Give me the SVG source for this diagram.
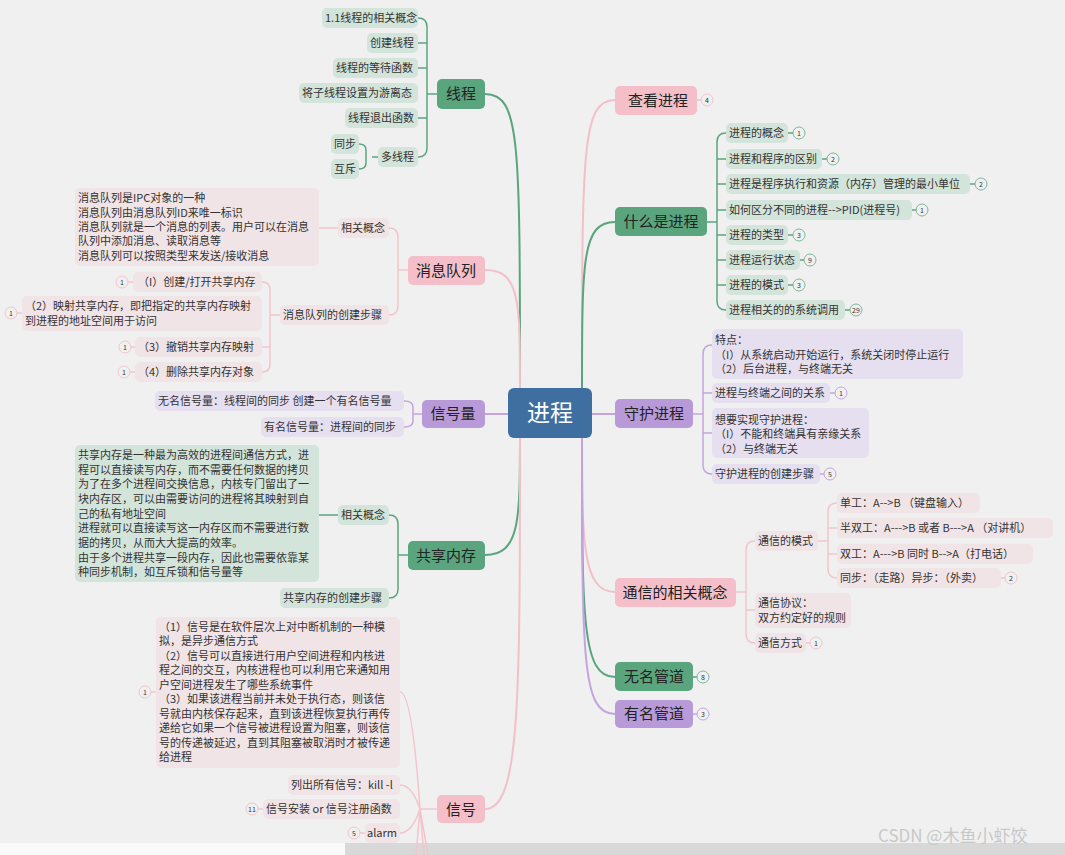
<svg xmlns="http://www.w3.org/2000/svg" width="1065" height="855" viewBox="0 0 1065 855">
<style>
text{font-family:"Noto Sans CJK SC","Liberation Sans",sans-serif;fill:#333;font-size:11px}
.m{font-size:15px;fill:#222}
.gm{fill:#5aa57e}.pm{fill:#f4bfc9}.um{fill:#b89ad9}
.gl{fill:#d3e4da}.pl{fill:#f1e4e6}.ul{fill:#e6dff0}
.cg{fill:none;stroke:#5aa57e;stroke-width:2}
.cp{fill:none;stroke:#f3bfca;stroke-width:2}
.cu{fill:none;stroke:#c3a4e0;stroke-width:2}
.sg{fill:none;stroke:#5aa57e;stroke-width:1.5}
.sp{fill:none;stroke:#f3c4cd;stroke-width:1.5}
.su{fill:none;stroke:#c3a4e0;stroke-width:1.5}
.n{font-size:7px;text-anchor:middle}
</style>
<rect width="1065" height="855" fill="#f0f0f0"/>
<rect x="0" y="843" width="345" height="12" fill="#fafafa"/>
<rect x="345" y="843" width="720" height="12" fill="#d8d8d8"/>
<g id="connectors">
<path class="cg" d="M520 392 C520 140 520 94 485 94"/>
<path class="cp" d="M520 392 C520 300 520 270 485 270"/>
<path class="cu" d="M485 414 L508 414"/>
<path class="cg" d="M520 436 C520 520 520 555 485 555"/>
<path class="cp" d="M520 436 C520 700 520 809 485 809"/>
<path class="cp" d="M582 392 C582 150 582 100 615 100"/>
<path class="cg" d="M582 392 C582 260 582 222 615 222"/>
<path class="cu" d="M592 414 L615 414"/>
<path class="cp" d="M582 436 C582 540 582 592 615 592"/>
<path class="cg" d="M582 436 C582 620 582 677 615 677"/>
<path class="cu" d="M582 436 C582 660 582 714 615 714"/>
<!-- 线程 -->
<path class="sg" d="M437 94 L427 94 M418 18 Q427 18 427 27 L427 148 Q427 157 418 157 M418 43 L427 43 M418 68 L427 68 M418 118 L427 118 M381 157 L372 157 M359 144 Q366 144 366 150 L366 163 Q366 169 359 169"/>
<!-- 消息队列 -->
<path class="sp" d="M408 270 L398 270 M389 228 Q398 228 398 237 L398 306 Q398 315 389 315 M338 228 L319 228 M280 315 L270 315 M262 282 Q270 282 270 290 L270 364 Q270 372 262 372 M262 347 L270 347 M128 282 L133 282 M17 313 L22 313 M131 347 L135 347 M130 372 L135 372"/>
<!-- 信号量 -->
<path class="su" d="M422 414 L413 414 M404 401 Q413 401 413 407 L413 421 Q413 427 404 427"/>
<!-- 共享内存 -->
<path class="sg" d="M408 555 L398 555 M389 515 Q398 515 398 524 L398 589 Q398 598 389 598 M338 515 L319 515"/>
<!-- 信号 -->
<path class="sp" d="M437 809 L420 809 M400 692 Q412 692 420 809 M400 785 Q412 785 420 809 M400 833 Q412 833 420 809 M420 809 L416 855 M420 809 L424 855 M420 809 L428 855 M151 692 L156 692 M258 809 L263 809 M360 833 L365 833"/>
<!-- 什么是进程 -->
<path class="sg" d="M707 222 L717 222 M726 133 Q717 133 717 142 L717 301 Q717 310 726 310 M726 159 L717 159 M726 184 L717 184 M726 210 L717 210 M726 235 L717 235 M726 260 L717 260 M726 285 L717 285"/>
<path class="sg" stroke-width="1" d="M788 133 L793 133 M822 159 L827 159 M970 184 L975 184 M912 210 L916 210 M788 235 L793 235 M800 260 L804 260 M788 285 L793 285 M845 310 L850 310"/>
<path class="sp" d="M697 100 L701 100"/>
<!-- 守护进程 -->
<path class="su" d="M693 414 L703 414 M712 345 Q703 345 703 354 L703 465 Q703 474 712 474 M712 393 L703 393 M712 433 L703 433 M830 393 L835 393 M820 474 L824 474"/>
<!-- 通信 -->
<path class="sp" d="M736 592 L746 592 M755 541 Q746 541 746 550 L746 634 Q746 643 755 643 M755 610 L746 610 M818 541 L828 541 M837 503 Q828 503 828 512 L828 569 Q828 578 837 578 M837 528 L828 528 M837 554 L828 554 M1001 578 L1005 578 M806 643 L810 643"/>
<path class="sg" d="M693 677 L697 677"/>
<path class="su" d="M693 714 L697 714"/>
</g>
<g id="center"><rect x="508" y="388" width="84" height="50" rx="6" fill="#3e6fa0"/><text x="550" y="421" text-anchor="middle" style="font-size:23px;fill:#fff">进程</text></g>
<!-- left -->
<g id="xiancheng"><rect class="gm" x="437" y="79" width="48" height="30" rx="5"/><text class="m" x="461" y="99" text-anchor="middle">线程</text></g>
<g id="x1"><rect class="gl" x="322" y="8" width="96" height="20" rx="5"/><text x="325" y="22">1.1线程的相关概念</text></g>
<g id="x2"><rect class="gl" x="367" y="33" width="51" height="20" rx="5"/><text x="370" y="47">创建线程</text></g>
<g id="x3"><rect class="gl" x="333" y="58" width="85" height="20" rx="5"/><text x="336" y="72">线程的等待函数</text></g>
<g id="x4"><rect class="gl" x="299" y="83" width="119" height="20" rx="5"/><text x="302" y="97">将子线程设置为游离态</text></g>
<g id="x5"><rect class="gl" x="345" y="108" width="73" height="20" rx="5"/><text x="348" y="122">线程退出函数</text></g>
<g id="x6"><rect class="gl" x="378" y="147" width="40" height="20" rx="5"/><text x="381" y="161">多线程</text></g>
<g id="x7"><rect class="gl" x="331" y="134" width="28" height="20" rx="5"/><text x="334" y="148">同步</text></g>
<g id="x8"><rect class="gl" x="331" y="159" width="28" height="20" rx="5"/><text x="334" y="173">互斥</text></g>

<g id="xxdl"><rect class="pm" x="408" y="256" width="77" height="29" rx="5"/><text class="m" x="446" y="276" text-anchor="middle">消息队列</text></g>
<g id="m1"><rect class="pl" x="338" y="218" width="51" height="20" rx="5"/><text x="341" y="232">相关概念</text></g>
<g id="m1t"><rect class="pl" x="75" y="188" width="244" height="78" rx="5"/>
<text x="78" y="202">消息队列是IPC对象的一种</text><text x="78" y="217">消息队列由消息队列ID来唯一标识</text><text x="78" y="231">消息队列就是一个消息的列表。用户可以在消息</text><text x="78" y="245">队列中添加消息、读取消息等</text><text x="78" y="260">消息队列可以按照类型来发送/接收消息</text></g>
<g id="m2"><rect class="pl" x="280" y="305" width="109" height="20" rx="5"/><text x="283" y="319">消息队列的创建步骤</text></g>
<g id="m3"><rect class="pl" x="133" y="272" width="129" height="20" rx="5"/><text x="138" y="286">（I）创建/打开共享内存</text><circle cx="122" cy="282" r="6" fill="none" stroke="#f3c4cd"/><text class="n" x="122" y="285">1</text></g>
<g id="m4"><rect class="pl" x="22" y="296" width="240" height="35" rx="5"/><text x="25" y="310">（2）映射共享内存，即把指定的共享内存映射</text><text x="25" y="325">到进程的地址空间用于访问</text><circle cx="11" cy="313" r="6" fill="none" stroke="#f3c4cd"/><text class="n" x="11" y="316">1</text></g>
<g id="m5"><rect class="pl" x="135" y="337" width="127" height="20" rx="5"/><text x="138" y="351">（3）撤销共享内存映射</text><circle cx="125" cy="347" r="6" fill="none" stroke="#f3c4cd"/><text class="n" x="125" y="350">1</text></g>
<g id="m6"><rect class="pl" x="135" y="362" width="127" height="20" rx="5"/><text x="138" y="376">（4）删除共享内存对象</text><circle cx="124" cy="372" r="6" fill="none" stroke="#f3c4cd"/><text class="n" x="124" y="375">1</text></g>

<g id="xhl"><rect class="um" x="422" y="400" width="63" height="28" rx="5"/><text class="m" x="453" y="419" text-anchor="middle">信号量</text></g>
<g id="s1"><rect class="ul" x="155" y="391" width="249" height="20" rx="5"/><text x="158" y="405">无名信号量：线程间的同步 创建一个有名信号量</text></g>
<g id="s2"><rect class="ul" x="261" y="417" width="143" height="20" rx="5"/><text x="264" y="431">有名信号量：进程间的同步</text></g>

<g id="gxnc"><rect class="gm" x="408" y="541" width="77" height="29" rx="5"/><text class="m" x="446" y="561" text-anchor="middle">共享内存</text></g>
<g id="g1"><rect class="gl" x="338" y="505" width="51" height="20" rx="5"/><text x="341" y="519">相关概念</text></g>
<g id="g1t"><rect class="gl" x="75" y="445" width="244" height="137" rx="5"/>
<text x="78" y="459">共享内存是一种最为高效的进程间通信方式，进</text><text x="78" y="474">程可以直接读写内存，而不需要任何数据的拷贝</text><text x="78" y="488">为了在多个进程间交换信息，内核专门留出了一</text><text x="78" y="503">块内存区，可以由需要访问的进程将其映射到自</text><text x="78" y="518">己的私有地址空间</text><text x="78" y="532">进程就可以直接读写这一内存区而不需要进行数</text><text x="78" y="547">据的拷贝，从而大大提高的效率。</text><text x="78" y="562">由于多个进程共享一段内存，因此也需要依靠某</text><text x="78" y="576">种同步机制，如互斥锁和信号量等</text></g>
<g id="g2"><rect class="gl" x="280" y="588" width="109" height="20" rx="5"/><text x="283" y="602">共享内存的创建步骤</text></g>

<g id="xh"><rect class="pm" x="437" y="795" width="48" height="28" rx="5"/><text class="m" x="461" y="815" text-anchor="middle">信号</text></g>
<g id="h1"><rect class="pl" x="156" y="617" width="244" height="151" rx="5"/>
<text x="159" y="631">（1）信号是在软件层次上对中断机制的一种模</text><text x="159" y="645">拟，是异步通信方式</text><text x="159" y="660">（2）信号可以直接进行用户空间进程和内核进</text><text x="159" y="674">程之间的交互，内核进程也可以利用它来通知用</text><text x="159" y="689">户空间进程发生了哪些系统事件</text><text x="159" y="703">（3）如果该进程当前并未处于执行态，则该信</text><text x="159" y="718">号就由内核保存起来，直到该进程恢复执行再传</text><text x="159" y="732">递给它如果一个信号被进程设置为阻塞，则该信</text><text x="159" y="747">号的传递被延迟，直到其阻塞被取消时才被传递</text><text x="159" y="761">给进程</text>
<circle cx="145" cy="692" r="6" fill="none" stroke="#f3c4cd"/><text class="n" x="145" y="695">1</text></g>
<g id="h2"><rect class="pl" x="288" y="775" width="112" height="20" rx="5"/><text x="291" y="789">列出所有信号：kill -l</text></g>
<g id="h3"><rect class="pl" x="263" y="799" width="137" height="20" rx="5"/><text x="266" y="813">信号安装 or 信号注册函数</text><circle cx="252" cy="809" r="6" fill="none" stroke="#f3c4cd"/><text class="n" x="252" y="812">11</text></g>
<g id="h4"><rect class="pl" x="365" y="823" width="35" height="20" rx="5"/><text x="367" y="837">alarm</text><circle cx="354" cy="833" r="6" fill="none" stroke="#f3c4cd"/><text class="n" x="354" y="836">5</text></g>

<!-- right -->
<g id="ckjc"><rect class="pm" x="615" y="86" width="82" height="29" rx="5"/><text class="m" x="658" y="106" text-anchor="middle">查看进程</text><circle cx="707" cy="100" r="6" fill="none" stroke="#f3c4cd"/><text class="n" x="707" y="103">4</text></g>
<g id="smsjc"><rect class="gm" x="615" y="207" width="92" height="29" rx="5"/><text class="m" x="661" y="227" text-anchor="middle">什么是进程</text></g>
<g id="w1"><rect class="gl" x="726" y="123" width="62" height="20" rx="5"/><text x="729" y="137">进程的概念</text><circle cx="799" cy="133" r="6" fill="none" stroke="#7bb898"/><text class="n" x="799" y="136">1</text></g>
<g id="w2"><rect class="gl" x="726" y="149" width="96" height="20" rx="5"/><text x="729" y="163">进程和程序的区别</text><circle cx="833" cy="159" r="6" fill="none" stroke="#7bb898"/><text class="n" x="833" y="162">2</text></g>
<g id="w3"><rect class="gl" x="726" y="174" width="244" height="20" rx="5"/><text x="729" y="188">进程是程序执行和资源（内存）管理的最小单位</text><circle cx="981" cy="184" r="6" fill="none" stroke="#7bb898"/><text class="n" x="981" y="187">2</text></g>
<g id="w4"><rect class="gl" x="726" y="200" width="186" height="20" rx="5"/><text x="729" y="214">如何区分不同的进程--&gt;PID(进程号)</text><circle cx="922" cy="210" r="6" fill="none" stroke="#7bb898"/><text class="n" x="922" y="213">1</text></g>
<g id="w5"><rect class="gl" x="726" y="225" width="62" height="20" rx="5"/><text x="729" y="239">进程的类型</text><circle cx="799" cy="235" r="6" fill="none" stroke="#7bb898"/><text class="n" x="799" y="238">3</text></g>
<g id="w6"><rect class="gl" x="726" y="250" width="74" height="20" rx="5"/><text x="729" y="264">进程运行状态</text><circle cx="810" cy="260" r="6" fill="none" stroke="#7bb898"/><text class="n" x="810" y="263">9</text></g>
<g id="w7"><rect class="gl" x="726" y="275" width="62" height="20" rx="5"/><text x="729" y="289">进程的模式</text><circle cx="799" cy="285" r="6" fill="none" stroke="#7bb898"/><text class="n" x="799" y="288">3</text></g>
<g id="w8"><rect class="gl" x="726" y="300" width="119" height="20" rx="5"/><text x="729" y="314">进程相关的的系统调用</text><circle cx="856" cy="310" r="6" fill="none" stroke="#7bb898"/><text class="n" x="856" y="313">29</text></g>

<g id="shjc"><rect class="um" x="615" y="399" width="78" height="29" rx="5"/><text class="m" x="654" y="419" text-anchor="middle">守护进程</text></g>
<g id="d1"><rect class="ul" x="712" y="329" width="251" height="50" rx="5"/><text x="715" y="344">特点：</text><text x="715" y="359">（I）从系统启动开始运行，系统关闭时停止运行</text><text x="715" y="373">（2）后台进程，与终端无关</text></g>
<g id="d2"><rect class="ul" x="712" y="383" width="118" height="20" rx="5"/><text x="715" y="397">进程与终端之间的关系</text><circle cx="841" cy="393" r="6" fill="none" stroke="#c3a4e0"/><text class="n" x="841" y="396">1</text></g>
<g id="d3"><rect class="ul" x="712" y="408" width="157" height="50" rx="5"/><text x="715" y="424">想要实现守护进程：</text><text x="715" y="438">（I）不能和终端具有亲缘关系</text><text x="715" y="453">（2）与终端无关</text></g>
<g id="d4"><rect class="ul" x="712" y="464" width="108" height="20" rx="5"/><text x="715" y="478">守护进程的创建步骤</text><circle cx="830" cy="474" r="6" fill="none" stroke="#c3a4e0"/><text class="n" x="830" y="477">5</text></g>

<g id="txgn"><rect class="pm" x="615" y="578" width="121" height="29" rx="5"/><text class="m" x="675" y="598" text-anchor="middle">通信的相关概念</text></g>
<g id="t1"><rect class="pl" x="755" y="531" width="63" height="20" rx="5"/><text x="758" y="545">通信的模式</text></g>
<g id="t2"><rect class="pl" x="755" y="593" width="96" height="35" rx="5"/><text x="758" y="607">通信协议：</text><text x="758" y="622">双方约定好的规则</text></g>
<g id="t3"><rect class="pl" x="755" y="633" width="51" height="20" rx="5"/><text x="758" y="647">通信方式</text><circle cx="816" cy="643" r="6" fill="none" stroke="#f3c4cd"/><text class="n" x="816" y="646">1</text></g>
<g id="t4"><rect class="pl" x="837" y="493" width="143" height="20" rx="5"/><text x="840" y="507">单工：A--&gt;B （键盘输入）</text></g>
<g id="t5"><rect class="pl" x="837" y="518" width="216" height="20" rx="5"/><text x="840" y="532">半双工：A---&gt;B 或者 B---&gt;A （对讲机）</text></g>
<g id="t6"><rect class="pl" x="837" y="544" width="196" height="20" rx="5"/><text x="840" y="558">双工：A---&gt;B 同时 B--&gt;A（打电话）</text></g>
<g id="t7"><rect class="pl" x="837" y="568" width="164" height="20" rx="5"/><text x="840" y="582">同步：（走路）异步：（外卖）</text><circle cx="1011" cy="578" r="6" fill="none" stroke="#f3c4cd"/><text class="n" x="1011" y="581">2</text></g>

<g id="wmgd"><rect class="gm" x="615" y="662" width="78" height="29" rx="5"/><text class="m" x="654" y="682" text-anchor="middle">无名管道</text><circle cx="703" cy="677" r="6" fill="none" stroke="#7bb898"/><text class="n" x="703" y="680">8</text></g>
<g id="ymgd"><rect class="um" x="615" y="700" width="78" height="28" rx="5"/><text class="m" x="654" y="719" text-anchor="middle">有名管道</text><circle cx="703" cy="714" r="6" fill="none" stroke="#c3a4e0"/><text class="n" x="703" y="717">3</text></g>
<text x="878" y="842" style="font-size:17px;fill:#c8c8c8">CSDN @木鱼小虾饺</text>
</svg>
